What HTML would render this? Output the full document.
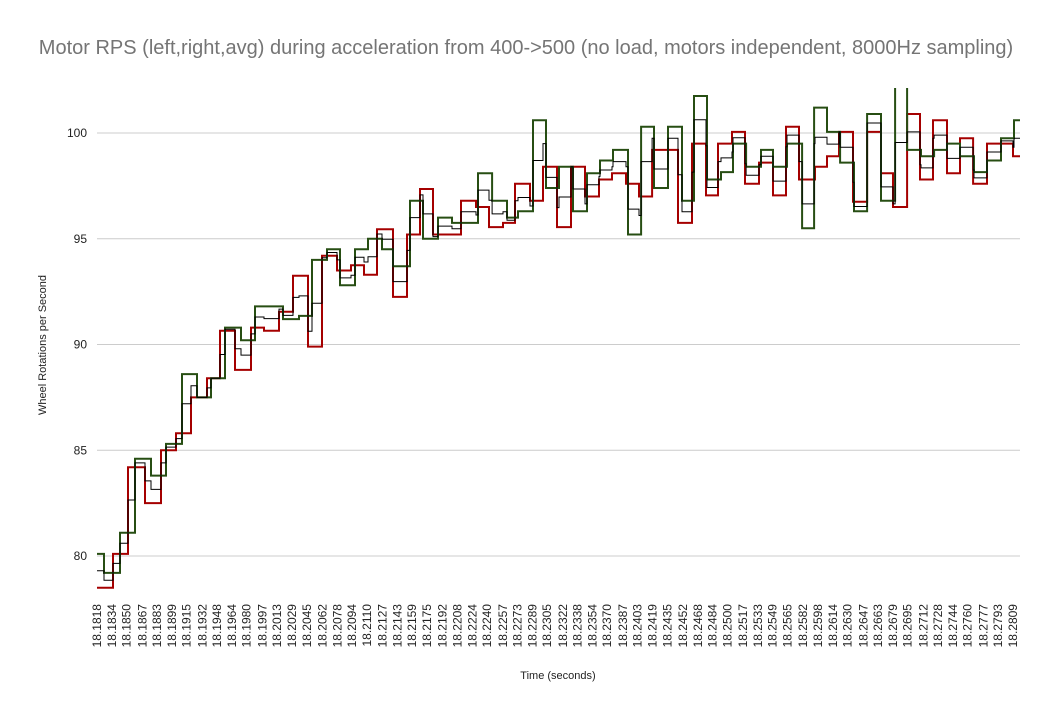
<!DOCTYPE html>
<html><head><meta charset="utf-8"><style>
body{margin:0;background:#fff;font-family:"Liberation Sans",Arial,sans-serif}
svg{display:block}
</style></head><body>
<svg id="chart" width="1057" height="718" xmlns="http://www.w3.org/2000/svg">
<rect width="1057" height="718" fill="#fff"/>
<text x="526" y="54" text-anchor="middle" font-size="20" fill="#757575">Motor RPS (left,right,avg) during acceleration from 400-&gt;500 (no load, motors independent, 8000Hz sampling)</text>
<text transform="translate(46,345) rotate(-90)" text-anchor="middle" font-size="11" fill="#222">Wheel Rotations per Second</text>
<text x="558" y="679" text-anchor="middle" font-size="11" fill="#222">Time (seconds)</text>
<g id="grid"></g><g id="ylabels"></g><g id="xlabels"></g>
<defs><clipPath id="clip"><rect x="90" y="88" width="940" height="520"/></clipPath></defs>
<g id="series" clip-path="url(#clip)"></g>
</svg>
<script>
// Time offsets in ms from 18.1818 s, with the value held from that time
const greenT=[0,0.76,2.49,4.11,5.84,7.46,9.20,10.82,12.33,13.85,15.58,17.09,20.12,21.85,23.26,24.88,26.29,27.91,29.32,30.83,32.02,33.86,35.27,36.89,38.41,41.22,42.74,44.36,45.55,47.17,48.58,49.98,51.50,53.01,54.42,55.83,57.45,58.86,60.26,61.78,63.29,64.59,65.99,67.51,68.81,70.22,71.84,73.14,74.65,76.28,77.58,78.98,80.39,81.90,83.31,84.82,86.34,87.64,89.15,90.56,91.96,93.37,94.88,96.29,97.80,99.21];
const greenV=[80.1,79.2,81.1,84.6,83.8,85.3,88.6,87.5,88.4,90.8,90.2,91.8,91.2,91.35,94.0,94.5,92.8,94.5,95.0,94.5,93.7,96.8,95.0,96.0,95.75,98.1,96.8,96.0,96.3,100.6,97.4,98.4,96.3,98.1,98.7,99.2,95.2,100.3,97.4,100.3,96.8,101.75,97.8,98.15,99.5,98.4,99.2,98.4,99.5,95.5,101.2,100.05,98.6,96.3,100.9,96.8,102.6,99.2,98.9,99.2,99.5,98.9,98.15,98.7,99.75,100.6];
const redT=[0,1.73,3.35,5.19,6.92,8.55,10.17,11.90,13.31,14.93,16.66,18.07,19.69,21.21,22.83,24.34,25.97,27.48,28.89,30.29,32.02,33.54,34.95,36.35,39.38,41.00,42.41,43.92,45.22,46.85,48.25,49.77,51.28,52.80,54.31,55.72,57.23,58.64,60.05,62.86,64.37,65.89,67.19,68.70,70.11,71.62,73.14,74.54,75.95,77.68,78.98,80.28,81.79,83.31,84.82,86.12,87.64,89.04,90.45,91.96,93.37,94.78,96.29,99.10];
const redV=[78.5,80.1,84.2,82.5,85.0,85.8,87.5,88.4,90.65,88.8,90.8,90.65,91.55,93.25,89.9,94.2,93.5,93.75,93.3,95.45,92.25,95.2,97.35,95.2,96.8,96.5,95.55,95.75,97.6,96.8,98.4,95.55,98.4,97.0,97.8,98.1,97.6,97.0,99.2,95.75,99.5,97.05,99.5,100.05,97.6,98.6,97.05,100.3,97.8,98.4,98.9,100.05,96.75,100.05,98.1,96.5,100.9,97.8,100.6,98.1,99.75,97.6,99.5,98.9];
const endT=99.86;
const yTicks=[80,85,90,95,100];
const xTickLabels=["18.1818","18.1834","18.1850","18.1867","18.1883","18.1899","18.1915","18.1932","18.1948","18.1964","18.1980","18.1997","18.2013","18.2029","18.2045","18.2062","18.2078","18.2094","18.2110","18.2127","18.2143","18.2159","18.2175","18.2192","18.2208","18.2224","18.2240","18.2257","18.2273","18.2289","18.2305","18.2322","18.2338","18.2354","18.2370","18.2387","18.2403","18.2419","18.2435","18.2452","18.2468","18.2484","18.2500","18.2517","18.2533","18.2549","18.2565","18.2582","18.2598","18.2614","18.2630","18.2647","18.2663","18.2679","18.2695","18.2712","18.2728","18.2744","18.2760","18.2777","18.2793","18.2809"];

const NS="http://www.w3.org/2000/svg";
const X=ms=>97+ms*916/99.1;
const Y=v=>556-(v-80)*21.15;
function mk(tag,attrs,parent){const e=document.createElementNS(NS,tag);for(const k in attrs)e.setAttribute(k,attrs[k]);parent.appendChild(e);return e;}
const grid=document.getElementById('grid'),yl=document.getElementById('ylabels'),xl=document.getElementById('xlabels'),ser=document.getElementById('series');
yTicks.forEach(v=>{
  const l=mk('line',{x1:97,x2:1020,y1:Y(v),y2:Y(v),stroke:'#cccccc','stroke-width':1},grid);
  
  
  const t=mk('text',{x:87,y:Y(v)+4,'text-anchor':'end','font-size':12,fill:'#222'},yl);
  t.textContent=v;
  
  
});
xTickLabels.forEach(s=>{
  const ms=(parseFloat(s)-18.1818)*1000;
  const x=X(ms)+4;
  const t=mk('text',{transform:`translate(${x},604) rotate(-90)`,'text-anchor':'end','font-size':12,fill:'#222'},xl);
  t.textContent=s;
  
  
});
function valAt(T,V,t){let v=V[0];for(let i=0;i<T.length;i++){if(T[i]<=t+1e-9)v=V[i];else break;}return v;}
function stepPath(T,V){let d='';for(let i=0;i<T.length;i++){const x0=X(T[i]),x1=X(i+1<T.length?T[i+1]:endT),y=Y(V[i]);d+=(i?'L':'M')+x0.toFixed(1)+','+y.toFixed(1)+'L'+x1.toFixed(1)+','+y.toFixed(1);}return d;}
const allT=[...new Set([...greenT,...redT])].sort((a,b)=>a-b);
const avgV=allT.map(t=>(valAt(greenT,greenV,t)+valAt(redT,redV,t))/2);
const pr=mk('path',{d:stepPath(redT,redV),fill:'none',stroke:'#a50000','stroke-width':2},ser);


const pg=mk('path',{d:stepPath(greenT,greenV),fill:'none',stroke:'#274e13','stroke-width':2},ser);


const pa=mk('path',{d:stepPath(allT,avgV),fill:'none',stroke:'#000','stroke-width':1},ser);


</script>
</body></html>
